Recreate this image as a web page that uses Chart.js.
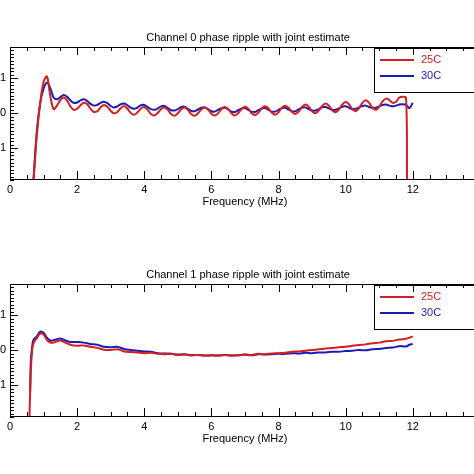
<!DOCTYPE html>
<html><head><meta charset="utf-8">
<script src="https://cdn.jsdelivr.net/npm/chart.js@4"></script>
<style>html,body{margin:0;padding:0;overflow:hidden;background:#fff}#wrap{width:490px;height:474px}canvas{display:block}</style>
</head><body><div id="wrap"><div style="width:490px;height:237px"><canvas id="c1"></canvas></div><div style="width:490px;height:237px"><canvas id="c2"></canvas></div></div>
<script>
const titles = ["Channel 0 phase ripple with joint estimate","Channel 1 phase ripple with joint estimate"];
const seriesNames = ["25C","30C"];
const xTicks = [0,2,4,6,8,10,12,14];
const yTicks = [-0.1,0,0.1];

const top25x = [0.7,0.8,0.9,1.0,1.1,1.2,1.3,1.4,1.5,1.6,1.7,1.8,1.9,2.0,2.1,2.2,2.3,2.4,2.5,2.6,2.7,2.8,2.9,3.0,3.1,3.2,3.3,3.4,3.5,3.6,3.7,3.8,3.9,4.0,4.1,4.2,4.3,4.4,4.5,4.6,4.7,4.8,4.9,5.0,5.1,5.2,5.3,5.4,5.5,5.6,5.7,5.8,5.9,6.0,6.1,6.2,6.3,6.4,6.5,6.6,6.7,6.8,6.9,7.0,7.1,7.2,7.3,7.4,7.5,7.6,7.7,7.8,7.9,8.0,8.1,8.2,8.3,8.4,8.5,8.6,8.7,8.8,8.9,9.0,9.1,9.2,9.3,9.4,9.5,9.6,9.7,9.8,9.9,10.0,10.1,10.2,10.3,10.4,10.5,10.6,10.7,10.8,10.9,11.0,11.1,11.2,11.3,11.4,11.5,11.6,11.7,11.8,11.83];
const top25y = [-0.19,-0.06,0.03,0.09,0.105,0.05,0.012,0.022,0.038,0.045,0.036,0.02,0.01,0.013,0.023,0.03,0.026,0.013,0.004,0.006,0.017,0.024,0.019,0.007,0.0,0.004,0.015,0.021,0.013,0.001,-0.004,0.003,0.014,0.018,0.01,-0.002,-0.006,0.001,0.012,0.017,0.01,-0.002,-0.007,0.0,0.011,0.017,0.01,-0.002,-0.007,0.0,0.011,0.017,0.011,-0.001,-0.006,0.0,0.012,0.018,0.012,0.0,-0.006,0.001,0.012,0.019,0.013,0.0,-0.005,0.002,0.014,0.02,0.014,0.002,-0.004,0.003,0.016,0.022,0.016,0.004,-0.002,0.005,0.018,0.025,0.019,0.006,0.0,0.008,0.021,0.028,0.022,0.009,0.003,0.011,0.025,0.032,0.026,0.012,0.006,0.015,0.03,0.037,0.03,0.016,0.01,0.019,0.034,0.042,0.038,0.03,0.033,0.045,0.047,0.044,-0.19];
const top30x = [0.7,0.8,0.9,1.0,1.1,1.2,1.3,1.4,1.5,1.6,1.7,1.8,1.9,2.0,2.1,2.2,2.3,2.4,2.5,2.6,2.7,2.8,2.9,3.0,3.1,3.2,3.3,3.4,3.5,3.6,3.7,3.8,3.9,4.0,4.1,4.2,4.3,4.4,4.5,4.6,4.7,4.8,4.9,5.0,5.1,5.2,5.3,5.4,5.5,5.6,5.7,5.8,5.9,6.0,6.1,6.2,6.3,6.4,6.5,6.6,6.7,6.8,6.9,7.0,7.1,7.2,7.3,7.4,7.5,7.6,7.7,7.8,7.9,8.0,8.1,8.2,8.3,8.4,8.5,8.6,8.7,8.8,8.9,9.0,9.1,9.2,9.3,9.4,9.5,9.6,9.7,9.8,9.9,10.0,10.1,10.2,10.3,10.4,10.5,10.6,10.7,10.8,10.9,11.0,11.1,11.2,11.3,11.4,11.5,11.6,11.7,11.8,11.9,12.0];
const top30y = [-0.19,-0.05,0.03,0.07,0.088,0.072,0.045,0.04,0.046,0.052,0.047,0.037,0.03,0.031,0.037,0.04,0.035,0.027,0.022,0.024,0.03,0.033,0.029,0.021,0.017,0.02,0.026,0.028,0.023,0.016,0.013,0.017,0.023,0.024,0.018,0.012,0.01,0.014,0.02,0.021,0.015,0.009,0.008,0.012,0.018,0.019,0.013,0.007,0.006,0.011,0.016,0.017,0.012,0.006,0.005,0.01,0.015,0.016,0.011,0.005,0.004,0.009,0.014,0.015,0.01,0.005,0.004,0.009,0.014,0.015,0.01,0.005,0.005,0.01,0.015,0.016,0.011,0.006,0.006,0.011,0.016,0.017,0.012,0.008,0.008,0.012,0.017,0.018,0.014,0.01,0.01,0.014,0.019,0.02,0.016,0.012,0.013,0.017,0.021,0.022,0.018,0.015,0.016,0.02,0.024,0.025,0.022,0.02,0.022,0.025,0.026,0.024,0.015,0.03];

const bot25x = [0.58,0.62,0.66,0.7,0.8,0.9,1.0,1.1,1.2,1.3,1.4,1.5,1.6,1.8,2.0,2.2,2.4,2.6,2.8,3.0,3.2,3.4,3.6,3.8,4.0,4.2,4.4,4.6,4.8,5.0,5.2,5.4,5.6,5.8,6.0,6.2,6.4,6.6,6.8,7.0,7.2,7.4,7.6,7.8,8.0,8.2,8.4,8.6,8.8,9.0,9.2,9.4,9.6,9.8,10.0,10.2,10.4,10.6,10.8,11.0,11.2,11.4,11.6,11.8,11.9,12.0];
const bot25y = [-0.19,-0.06,0.0,0.02,0.035,0.048,0.045,0.03,0.022,0.022,0.026,0.028,0.024,0.016,0.013,0.014,0.01,0.007,0.002,0.001,0.003,-0.003,-0.005,-0.006,-0.008,-0.007,-0.01,-0.011,-0.01,-0.013,-0.012,-0.014,-0.013,-0.015,-0.014,-0.015,-0.013,-0.015,-0.014,-0.012,-0.013,-0.01,-0.011,-0.009,-0.008,-0.007,-0.004,-0.003,-0.001,0.001,0.003,0.005,0.007,0.009,0.01,0.013,0.015,0.017,0.02,0.022,0.026,0.027,0.031,0.033,0.036,0.04];
const bot30x = [0.6,0.62,0.66,0.7,0.8,0.9,1.0,1.1,1.2,1.3,1.4,1.5,1.6,1.8,2.0,2.2,2.4,2.6,2.8,3.0,3.2,3.4,3.6,3.8,4.0,4.2,4.4,4.6,4.8,5.0,5.2,5.4,5.6,5.8,6.0,6.2,6.4,6.6,6.8,7.0,7.2,7.4,7.6,7.8,8.0,8.2,8.4,8.6,8.8,9.0,9.2,9.4,9.6,9.8,10.0,10.2,10.4,10.6,10.8,11.0,11.2,11.4,11.6,11.8,11.9,12.0];
const bot30y = [-0.12,-0.03,0.01,0.03,0.04,0.053,0.05,0.036,0.028,0.029,0.032,0.034,0.03,0.024,0.024,0.022,0.018,0.016,0.01,0.009,0.01,0.004,0.001,-0.001,-0.003,-0.004,-0.008,-0.009,-0.01,-0.012,-0.011,-0.014,-0.013,-0.015,-0.014,-0.015,-0.013,-0.015,-0.014,-0.012,-0.014,-0.011,-0.012,-0.011,-0.01,-0.01,-0.008,-0.009,-0.007,-0.008,-0.006,-0.006,-0.004,-0.004,-0.002,-0.001,0.001,0.0,0.003,0.004,0.007,0.008,0.012,0.011,0.016,0.018];

const RED = '#d61e1e', BLUE = '#1c1cb4';
const FONT = '"Liberation Sans", Arial, sans-serif';
const pts = (xs, ys) => xs.map((x, i) => ({x, y: ys[i]}));

function deco(title) {
  return {
    id: 'deco',
    afterDraw(chart) {
      const {ctx, chartArea: a, scales: {x, y}} = chart;
      ctx.save();
      ctx.strokeStyle = '#000'; ctx.lineWidth = 1;
      ctx.strokeRect(a.left + 0.5, a.top + 0.5, a.right - a.left, a.bottom - a.top);
      ctx.beginPath();
      for (let v = 0; v <= 14.001; v += 0.5) {
        const px = Math.round(x.getPixelForValue(v)) + 0.5;
        const L = Math.abs(v / 2 - Math.round(v / 2)) < 1e-6 ? 8 : 4;
        ctx.moveTo(px, a.bottom); ctx.lineTo(px, a.bottom - L);
        ctx.moveTo(px, a.top); ctx.lineTo(px, a.top + L);
      }
      for (let k = -19; k <= 19; k++) {
        const v = k / 100;
        const py = Math.round(y.getPixelForValue(v)) + 0.5;
        const L = k % 10 === 0 ? 8 : 4;
        ctx.moveTo(a.left, py); ctx.lineTo(a.left + L, py);
      }
      ctx.stroke();
      ctx.fillStyle = '#000';
      ctx.font = '11px ' + FONT;
      ctx.textAlign = 'center'; ctx.textBaseline = 'middle';
      ctx.fillText(title, 248, a.top - 9);
      ctx.fillText('Frequency (MHz)', x.getPixelForValue(7), a.bottom + 23);
      ctx.strokeRect(374.5, a.top + 1.5, 120, 44);
      const cols = [RED, BLUE];
      seriesNames.forEach((n, i) => {
        const ly = a.top + 13 + i * 16;
        ctx.strokeStyle = cols[i]; ctx.lineWidth = 2;
        ctx.beginPath(); ctx.moveTo(380, ly); ctx.lineTo(414, ly); ctx.stroke();
        ctx.fillStyle = cols[i]; ctx.textAlign = 'left';
        ctx.fillText(n, 421, ly);
      });
      ctx.restore();
    }
  };
}

function make(id, title, d25, d30) {
  new Chart(document.getElementById(id), {
    type: 'line',
    data: { datasets: [
      {label: seriesNames[0], data: d25, borderColor: RED, borderWidth: 2, pointRadius: 0, tension: 0.35},
      {label: seriesNames[1], data: d30, borderColor: BLUE, borderWidth: 2, pointRadius: 0, tension: 0.35}
    ]},
    options: {
      responsive: true, maintainAspectRatio: false, animation: false,
      layout: {padding: {top: 47, right: 4, left: 0, bottom: 0}},
      plugins: {legend: {display: false}, title: {display: false}, tooltip: {enabled: false}},
      scales: {
        x: {type: 'linear', min: 0, max: 14,
          afterBuildTicks: s => { s.ticks = xTicks.map(v => ({value: v})); },
          afterFit: s => { s.height = 58; },
          grid: {display: false, drawTicks: false, tickLength: 0}, border: {display: false},
          ticks: {color: '#000', font: {family: FONT, size: 11}, padding: 4, maxRotation: 0}},
        y: {type: 'linear', min: -0.187, max: 0.189,
          afterBuildTicks: s => { s.ticks = yTicks.map(v => ({value: v})); },
          afterFit: s => { s.width = 10; },
          grid: {display: false, drawTicks: false, tickLength: 0}, border: {display: false},
          ticks: {color: '#000', font: {family: FONT, size: 11}, padding: 4,
            callback: v => v === 0 ? '0.0' : v.toFixed(1)}}
      }
    },
    plugins: [deco(title)]
  });
}
make('c1', titles[0], pts(top25x, top25y), pts(top30x, top30y));
make('c2', titles[1], pts(bot25x, bot25y), pts(bot30x, bot30y));
</script></body></html>
